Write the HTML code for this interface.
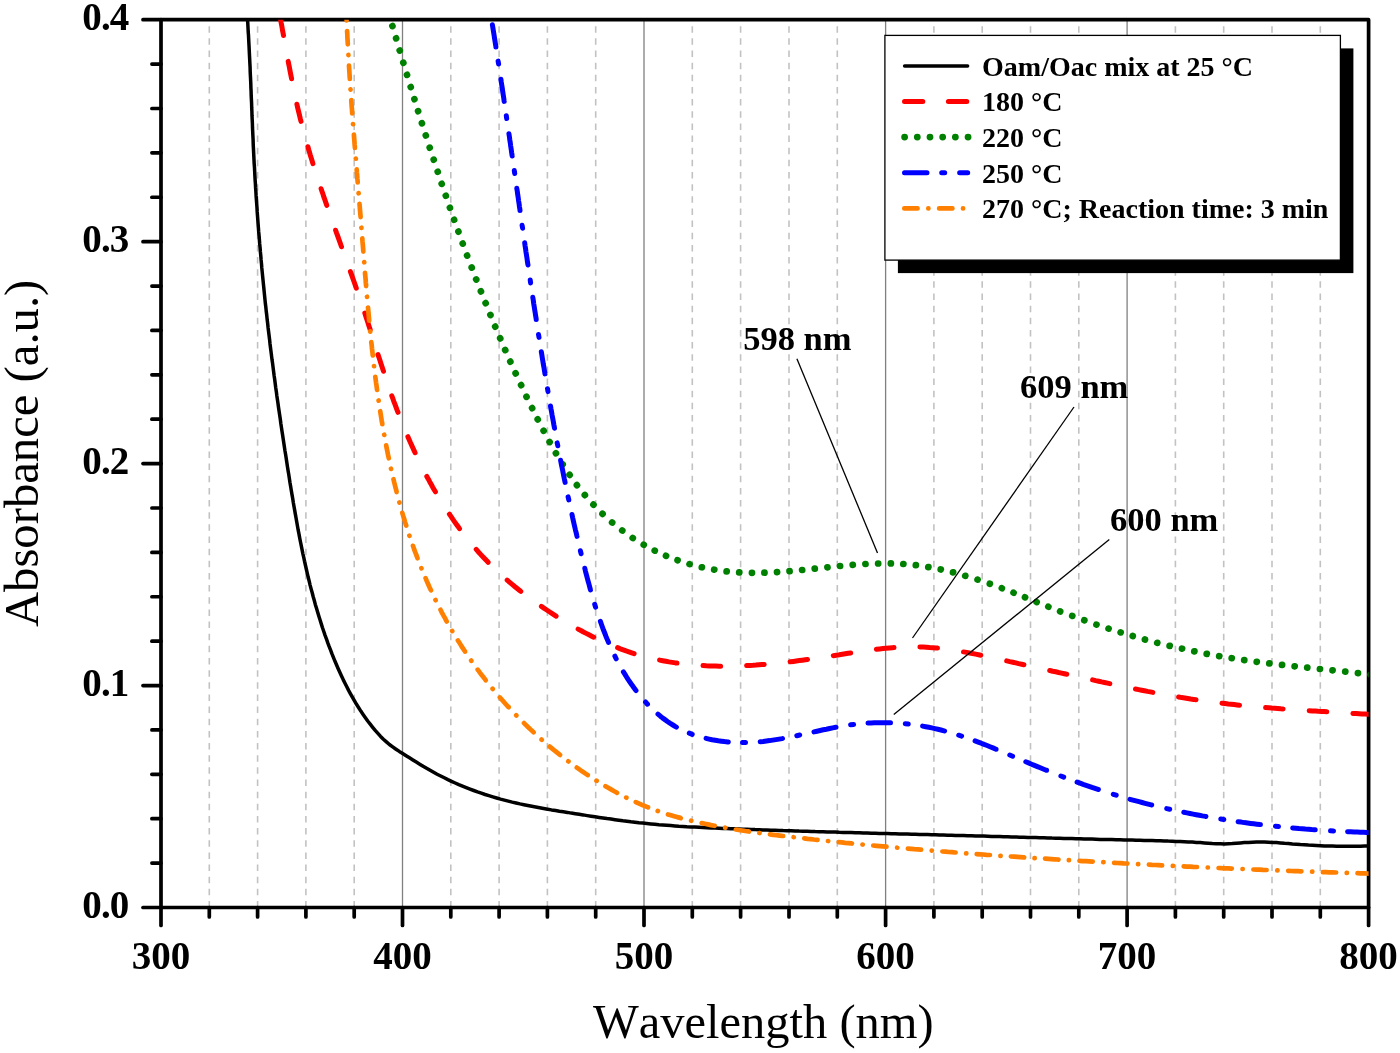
<!DOCTYPE html>
<html lang="en"><head><meta charset="utf-8"><title>UV-Vis absorbance</title>
<style>html,body{margin:0;padding:0;background:#fff}body{width:1400px;height:1053px;overflow:hidden}svg{display:block}text{font-family:"Liberation Serif","Times New Roman",serif;fill:#000;font-kerning:none}.b{font-weight:bold}</style></head><body>
<svg width="1400" height="1053" viewBox="0 0 1400 1053">
<rect width="1400" height="1053" fill="#fff"/>
<defs><clipPath id="pc"><rect x="161.0" y="19.7" width="1207.6" height="887.8"/></clipPath></defs>
<g><line x1="209.3" y1="907.5" x2="209.3" y2="19.7" stroke="#c2c2c2" stroke-width="1.6" stroke-dasharray="6.5 5.65"/><line x1="257.6" y1="907.5" x2="257.6" y2="19.7" stroke="#c2c2c2" stroke-width="1.6" stroke-dasharray="6.5 5.65"/><line x1="305.9" y1="907.5" x2="305.9" y2="19.7" stroke="#c2c2c2" stroke-width="1.6" stroke-dasharray="6.5 5.65"/><line x1="354.2" y1="907.5" x2="354.2" y2="19.7" stroke="#c2c2c2" stroke-width="1.6" stroke-dasharray="6.5 5.65"/><line x1="402.5" y1="19.7" x2="402.5" y2="907.5" stroke="#808080" stroke-width="1.3"/><line x1="450.8" y1="907.5" x2="450.8" y2="19.7" stroke="#c2c2c2" stroke-width="1.6" stroke-dasharray="6.5 5.65"/><line x1="499.1" y1="907.5" x2="499.1" y2="19.7" stroke="#c2c2c2" stroke-width="1.6" stroke-dasharray="6.5 5.65"/><line x1="547.4" y1="907.5" x2="547.4" y2="19.7" stroke="#c2c2c2" stroke-width="1.6" stroke-dasharray="6.5 5.65"/><line x1="595.7" y1="907.5" x2="595.7" y2="19.7" stroke="#c2c2c2" stroke-width="1.6" stroke-dasharray="6.5 5.65"/><line x1="644.0" y1="19.7" x2="644.0" y2="907.5" stroke="#808080" stroke-width="1.3"/><line x1="692.3" y1="907.5" x2="692.3" y2="19.7" stroke="#c2c2c2" stroke-width="1.6" stroke-dasharray="6.5 5.65"/><line x1="740.6" y1="907.5" x2="740.6" y2="19.7" stroke="#c2c2c2" stroke-width="1.6" stroke-dasharray="6.5 5.65"/><line x1="789.0" y1="907.5" x2="789.0" y2="19.7" stroke="#c2c2c2" stroke-width="1.6" stroke-dasharray="6.5 5.65"/><line x1="837.3" y1="907.5" x2="837.3" y2="19.7" stroke="#c2c2c2" stroke-width="1.6" stroke-dasharray="6.5 5.65"/><line x1="885.6" y1="19.7" x2="885.6" y2="907.5" stroke="#808080" stroke-width="1.3"/><line x1="933.9" y1="907.5" x2="933.9" y2="19.7" stroke="#c2c2c2" stroke-width="1.6" stroke-dasharray="6.5 5.65"/><line x1="982.2" y1="907.5" x2="982.2" y2="19.7" stroke="#c2c2c2" stroke-width="1.6" stroke-dasharray="6.5 5.65"/><line x1="1030.5" y1="907.5" x2="1030.5" y2="19.7" stroke="#c2c2c2" stroke-width="1.6" stroke-dasharray="6.5 5.65"/><line x1="1078.8" y1="907.5" x2="1078.8" y2="19.7" stroke="#c2c2c2" stroke-width="1.6" stroke-dasharray="6.5 5.65"/><line x1="1127.1" y1="19.7" x2="1127.1" y2="907.5" stroke="#808080" stroke-width="1.3"/><line x1="1175.4" y1="907.5" x2="1175.4" y2="19.7" stroke="#c2c2c2" stroke-width="1.6" stroke-dasharray="6.5 5.65"/><line x1="1223.7" y1="907.5" x2="1223.7" y2="19.7" stroke="#c2c2c2" stroke-width="1.6" stroke-dasharray="6.5 5.65"/><line x1="1272.0" y1="907.5" x2="1272.0" y2="19.7" stroke="#c2c2c2" stroke-width="1.6" stroke-dasharray="6.5 5.65"/><line x1="1320.3" y1="907.5" x2="1320.3" y2="19.7" stroke="#c2c2c2" stroke-width="1.6" stroke-dasharray="6.5 5.65"/></g>
<g fill="none" stroke="#000" stroke-width="3.7" stroke-linecap="round" stroke-linejoin="round"><rect x="161.0" y="19.7" width="1207.6" height="887.8"/><line x1="161.0" y1="907.50" x2="143.0" y2="907.50"/><line x1="161.0" y1="863.11" x2="151.9" y2="863.11"/><line x1="161.0" y1="818.72" x2="151.9" y2="818.72"/><line x1="161.0" y1="774.33" x2="151.9" y2="774.33"/><line x1="161.0" y1="729.94" x2="151.9" y2="729.94"/><line x1="161.0" y1="685.55" x2="143.0" y2="685.55"/><line x1="161.0" y1="641.16" x2="151.9" y2="641.16"/><line x1="161.0" y1="596.77" x2="151.9" y2="596.77"/><line x1="161.0" y1="552.38" x2="151.9" y2="552.38"/><line x1="161.0" y1="507.99" x2="151.9" y2="507.99"/><line x1="161.0" y1="463.60" x2="143.0" y2="463.60"/><line x1="161.0" y1="419.21" x2="151.9" y2="419.21"/><line x1="161.0" y1="374.82" x2="151.9" y2="374.82"/><line x1="161.0" y1="330.43" x2="151.9" y2="330.43"/><line x1="161.0" y1="286.04" x2="151.9" y2="286.04"/><line x1="161.0" y1="241.65" x2="143.0" y2="241.65"/><line x1="161.0" y1="197.26" x2="151.9" y2="197.26"/><line x1="161.0" y1="152.87" x2="151.9" y2="152.87"/><line x1="161.0" y1="108.48" x2="151.9" y2="108.48"/><line x1="161.0" y1="64.09" x2="151.9" y2="64.09"/><line x1="161.0" y1="19.70" x2="143.0" y2="19.70"/><line x1="161.0" y1="907.5" x2="161.0" y2="925.5"/><line x1="209.3" y1="907.5" x2="209.3" y2="916.9"/><line x1="257.6" y1="907.5" x2="257.6" y2="916.9"/><line x1="305.9" y1="907.5" x2="305.9" y2="916.9"/><line x1="354.2" y1="907.5" x2="354.2" y2="916.9"/><line x1="402.5" y1="907.5" x2="402.5" y2="925.5"/><line x1="450.8" y1="907.5" x2="450.8" y2="916.9"/><line x1="499.1" y1="907.5" x2="499.1" y2="916.9"/><line x1="547.4" y1="907.5" x2="547.4" y2="916.9"/><line x1="595.7" y1="907.5" x2="595.7" y2="916.9"/><line x1="644.0" y1="907.5" x2="644.0" y2="925.5"/><line x1="692.3" y1="907.5" x2="692.3" y2="916.9"/><line x1="740.6" y1="907.5" x2="740.6" y2="916.9"/><line x1="789.0" y1="907.5" x2="789.0" y2="916.9"/><line x1="837.3" y1="907.5" x2="837.3" y2="916.9"/><line x1="885.6" y1="907.5" x2="885.6" y2="925.5"/><line x1="933.9" y1="907.5" x2="933.9" y2="916.9"/><line x1="982.2" y1="907.5" x2="982.2" y2="916.9"/><line x1="1030.5" y1="907.5" x2="1030.5" y2="916.9"/><line x1="1078.8" y1="907.5" x2="1078.8" y2="916.9"/><line x1="1127.1" y1="907.5" x2="1127.1" y2="925.5"/><line x1="1175.4" y1="907.5" x2="1175.4" y2="916.9"/><line x1="1223.7" y1="907.5" x2="1223.7" y2="916.9"/><line x1="1272.0" y1="907.5" x2="1272.0" y2="916.9"/><line x1="1320.3" y1="907.5" x2="1320.3" y2="916.9"/><line x1="1368.6" y1="907.5" x2="1368.6" y2="925.5"/></g>
<g clip-path="url(#pc)" fill="none" stroke-linecap="round" stroke-linejoin="round">
<path d="M247.5 19.5L247.8 23.5L248.0 27.5L248.2 31.5L248.5 35.5L248.7 39.5L248.9 43.5L249.1 47.5L249.3 51.6L249.5 55.6L249.7 59.6L249.9 63.6L250.1 67.6L250.2 71.6L250.4 75.6L250.6 79.6L250.8 83.6L250.9 87.6L251.1 91.6L251.2 95.7L251.4 99.7L251.6 103.7L251.7 107.7L251.9 111.7L252.0 115.7L252.2 119.7L252.4 123.7L252.5 127.7L252.7 131.7L252.9 135.8L253.1 139.8L253.2 143.8L253.4 147.8L253.6 151.8L253.8 155.8L254.0 159.8L254.2 163.8L254.5 167.8L254.7 171.8L254.9 175.8L255.1 179.8L255.4 183.8L255.6 187.9L255.9 191.9L256.1 195.9L256.4 199.9L256.7 203.9L257.0 207.9L257.2 211.9L257.5 215.9L257.8 219.9L258.1 223.9L258.4 227.9L258.7 231.9L259.1 235.9L259.4 239.9L259.7 243.9L260.1 247.9L260.4 251.9L260.8 255.9L261.1 259.9L261.5 263.9L261.8 267.9L262.2 271.9L262.6 275.9L263.0 279.9L263.4 283.9L263.8 287.8L264.2 291.8L264.6 295.8L265.0 299.8L265.4 303.8L265.9 307.8L266.3 311.8L266.8 315.8L267.2 319.8L267.7 323.8L268.1 327.7L268.6 331.7L269.1 335.7L269.6 339.7L270.0 343.7L270.5 347.7L271.0 351.6L271.5 355.6L272.0 359.6L272.6 363.6L273.1 367.6L273.6 371.5L274.1 375.5L274.7 379.5L275.2 383.5L275.7 387.5L276.3 391.4L276.8 395.4L277.4 399.4L278.0 403.4L278.5 407.3L279.1 411.3L279.7 415.3L280.3 419.2L280.8 423.2L281.4 427.2L282.0 431.2L282.6 435.1L283.2 439.1L283.8 443.1L284.4 447.0L285.0 451.0L285.7 455.0L286.3 458.9L286.9 462.9L287.5 466.9L288.1 470.8L288.8 474.8L289.4 478.7L290.0 482.7L290.7 486.7L291.3 490.6L292.0 494.6L292.7 498.5L293.3 502.5L294.0 506.5L294.7 510.4L295.4 514.4L296.1 518.3L296.8 522.3L297.5 526.2L298.2 530.2L299.0 534.1L299.7 538.0L300.5 542.0L301.3 545.9L302.1 549.8L302.9 553.8L303.8 557.7L304.6 561.6L305.5 565.5L306.4 569.5L307.3 573.4L308.2 577.3L309.2 581.2L310.1 585.1L311.1 588.9L312.2 592.8L313.2 596.7L314.3 600.6L315.3 604.4L316.5 608.3L317.6 612.1L318.8 616.0L320.0 619.8L321.2 623.6L322.4 627.5L323.7 631.3L325.0 635.1L326.4 638.8L327.7 642.6L329.1 646.4L330.6 650.1L332.0 653.9L333.5 657.6L335.0 661.3L336.6 665.0L338.2 668.7L339.8 672.3L341.5 676.0L343.2 679.6L345.0 683.2L346.8 686.8L348.6 690.4L350.5 693.9L352.5 697.4L354.5 700.9L356.5 704.3L358.7 707.7L360.8 711.1L363.1 714.4L365.4 717.7L367.7 721.0L370.2 724.2L372.7 727.3L375.2 730.4L377.9 733.4L380.6 736.4L383.4 739.2L386.4 741.9L389.4 744.5L392.7 746.9L396.0 749.2L399.3 751.4L402.7 753.5L406.1 755.7L409.5 757.8L412.9 760.0L416.3 762.1L419.7 764.2L423.1 766.3L426.6 768.3L430.1 770.3L433.6 772.3L437.1 774.2L440.7 776.0L444.3 777.8L447.9 779.6L451.5 781.3L455.2 783.0L458.8 784.6L462.5 786.1L466.2 787.6L470.0 789.1L473.7 790.5L477.5 791.9L481.3 793.2L485.1 794.5L488.9 795.7L492.8 796.9L496.6 798.0L500.5 799.1L504.4 800.1L508.3 801.1L512.2 802.1L516.1 803.0L520.0 803.9L523.9 804.7L527.8 805.5L531.8 806.3L535.7 807.0L539.7 807.8L543.6 808.5L547.6 809.2L551.5 809.9L555.5 810.5L559.4 811.2L563.4 811.8L567.4 812.4L571.3 813.1L575.3 813.7L579.2 814.3L583.2 814.9L587.2 815.6L591.1 816.2L595.1 816.8L599.1 817.4L603.0 818.0L607.0 818.6L611.0 819.1L615.0 819.7L618.9 820.2L622.9 820.8L626.9 821.3L630.9 821.8L634.9 822.2L638.9 822.7L642.8 823.1L646.8 823.5L650.8 823.9L654.8 824.3L658.8 824.7L662.8 825.0L666.8 825.3L670.8 825.6L674.8 825.9L678.8 826.2L682.8 826.4L686.8 826.7L690.9 826.9L694.9 827.1L698.9 827.3L702.9 827.5L706.9 827.7L710.9 827.9L714.9 828.0L718.9 828.2L722.9 828.4L726.9 828.5L730.9 828.7L735.0 828.8L739.0 829.0L743.0 829.2L747.0 829.3L751.0 829.4L755.0 829.6L759.0 829.7L763.0 829.9L767.0 830.0L771.0 830.2L775.1 830.3L779.1 830.4L783.1 830.6L787.1 830.7L791.1 830.8L795.1 830.9L799.1 831.1L803.1 831.2L807.1 831.3L811.2 831.4L815.2 831.6L819.2 831.7L823.2 831.8L827.2 831.9L831.2 832.0L835.2 832.1L839.2 832.3L843.3 832.4L847.3 832.5L851.3 832.6L855.3 832.7L859.3 832.8L863.3 832.9L867.3 833.0L871.3 833.2L875.3 833.3L879.4 833.4L883.4 833.5L887.4 833.6L891.4 833.7L895.4 833.8L899.4 833.9L903.4 834.0L907.4 834.1L911.5 834.2L915.5 834.3L919.5 834.4L923.5 834.5L927.5 834.6L931.5 834.7L935.5 834.8L939.5 835.0L943.5 835.1L947.6 835.2L951.6 835.3L955.6 835.4L959.6 835.5L963.6 835.6L967.6 835.7L971.6 835.8L975.6 835.9L979.7 836.0L983.7 836.1L987.7 836.2L991.7 836.4L995.7 836.5L999.7 836.6L1003.7 836.7L1007.7 836.8L1011.7 836.9L1015.8 837.0L1019.8 837.2L1023.8 837.3L1027.8 837.4L1031.8 837.5L1035.8 837.6L1039.8 837.7L1043.8 837.8L1047.9 837.9L1051.9 838.1L1055.9 838.2L1059.9 838.3L1063.9 838.4L1067.9 838.5L1071.9 838.6L1075.9 838.7L1079.9 838.8L1084.0 838.9L1088.0 839.0L1092.0 839.1L1096.0 839.2L1100.0 839.4L1104.0 839.5L1108.0 839.6L1112.0 839.6L1116.1 839.7L1120.1 839.8L1124.1 839.9L1128.1 840.0L1132.1 840.1L1136.1 840.2L1140.1 840.3L1144.1 840.4L1148.1 840.5L1152.2 840.6L1156.2 840.7L1160.2 840.8L1164.2 840.9L1168.2 841.1L1172.2 841.2L1176.2 841.4L1180.2 841.5L1184.2 841.7L1188.3 841.9L1192.3 842.1L1196.3 842.4L1200.3 842.6L1204.3 842.9L1208.3 843.2L1212.3 843.5L1216.3 843.7L1220.3 843.8L1224.3 843.9L1228.3 843.7L1232.3 843.5L1236.3 843.2L1240.3 842.9L1244.3 842.6L1248.3 842.4L1252.4 842.2L1256.4 842.1L1260.4 842.0L1264.4 842.1L1268.4 842.2L1272.4 842.4L1276.4 842.6L1280.4 842.9L1284.4 843.3L1288.4 843.6L1292.4 844.0L1296.4 844.3L1300.4 844.6L1304.4 844.8L1308.4 845.1L1312.4 845.3L1316.4 845.5L1320.5 845.7L1324.5 845.9L1328.5 846.0L1332.5 846.1L1336.5 846.2L1340.5 846.2L1344.5 846.3L1348.5 846.3L1352.5 846.3L1356.6 846.3L1360.6 846.2L1364.6 846.1L1368.6 846.0" stroke="#000" stroke-width="3.5"/>
<path d="M280.6 19.5L281.1 22.4L281.7 25.4L282.2 28.3L282.7 31.3L283.3 34.3L283.5 35.6M288.2 61.4L288.8 64.4L289.4 67.3L289.9 70.3L290.5 73.2L291.1 76.2L291.6 78.7M296.9 104.3L297.6 107.4L298.3 110.3L299.0 113.2L299.7 116.1L300.4 119.1L301.0 121.4M307.9 146.7L308.7 149.7L309.6 152.6L310.4 155.5L311.3 158.3L312.2 161.2L312.9 163.6M321.1 188.7L322.1 191.7L323.1 194.5L324.0 197.4L325.0 200.2L326.0 203.1L326.8 205.3M335.6 230.2L336.6 233.1L337.7 236.0L338.7 238.8L339.7 241.6L340.7 244.5L341.5 246.8M350.4 271.6L351.5 274.5L352.5 277.3L353.5 280.2L354.5 283.0L355.5 285.8L356.3 288.2M364.8 313.1L365.8 316.2L366.8 319.3L367.8 322.3L368.8 325.4L369.8 328.5L370.2 329.8M378.0 354.6L379.0 357.5L380.0 360.6L381.0 363.7L382.0 366.8L383.0 369.8L383.5 371.3M391.8 395.8L392.9 398.7L393.9 401.6L395.0 404.4L396.0 407.2L397.1 410.1L398.0 412.3M407.9 436.7L409.1 439.5L410.3 442.3L411.6 445.1L412.8 447.8L414.1 450.6L415.1 452.7M426.8 476.4L428.4 479.2L429.8 481.9L431.3 484.5L432.7 487.2L434.2 489.8L435.4 491.8M449.4 514.2L451.1 516.7L452.9 519.4L454.8 522.1L456.7 524.7L458.6 527.3L459.5 528.6M476.2 549.4L478.2 551.7L480.4 554.1L482.6 556.4L484.8 558.8L487.0 561.1L488.1 562.3M507.2 580.2L509.7 582.3L512.2 584.4L514.7 586.5L517.2 588.5L519.7 590.5L520.8 591.4M541.4 606.4L543.9 608.1L546.4 609.8L549.0 611.5L551.5 613.1L554.1 614.8L556.1 616.1M578.1 629.1L580.8 630.5L583.5 632.0L586.2 633.4L589.0 634.8L591.7 636.2L593.7 637.2M617.6 647.7L620.4 648.8L623.2 649.8L626.1 650.9L628.9 651.8L631.7 652.8L634.1 653.6M659.6 660.1L662.7 660.7L665.9 661.3L669.1 661.9L672.2 662.4L675.4 662.9L677.0 663.1M703.0 665.6L706.2 665.8L709.4 665.9L712.7 666.0L715.9 666.1L719.1 666.2L720.6 666.2M746.6 665.6L749.9 665.4L752.9 665.3L755.9 665.1L758.9 664.8L761.9 664.6L764.2 664.4M790.1 661.8L793.3 661.4L796.3 661.0L799.3 660.6L802.3 660.2L805.3 659.8L807.5 659.5M833.3 655.7L836.3 655.2L839.3 654.8L842.3 654.3L845.2 653.8L848.2 653.3L850.7 653.0M876.4 649.3L879.7 648.9L882.9 648.6L886.1 648.3L889.3 648.0L892.5 647.7L894.0 647.6M919.9 647.0L923.2 647.1L926.4 647.2L929.6 647.5L932.9 647.7L936.1 648.0L937.5 648.1M963.5 651.9L966.6 652.4L969.6 653.0L972.5 653.5L975.5 654.1L978.5 654.7L980.8 655.2M1006.7 660.9L1009.8 661.6L1012.8 662.2L1015.7 662.9L1018.7 663.6L1021.6 664.2L1023.9 664.7M1049.7 670.5L1052.7 671.2L1055.7 671.8L1058.6 672.5L1061.5 673.1L1064.5 673.8L1066.8 674.3M1092.6 679.9L1095.7 680.6L1098.7 681.2L1101.6 681.9L1104.5 682.5L1107.5 683.1L1109.8 683.6M1135.5 689.0L1138.6 689.6L1141.6 690.2L1144.5 690.8L1147.5 691.4L1150.4 691.9L1152.8 692.4M1178.6 697.0L1181.8 697.6L1184.7 698.0L1187.7 698.5L1190.7 699.0L1193.6 699.4L1196.0 699.8M1222.0 703.2L1225.2 703.6L1228.2 704.0L1231.1 704.3L1234.1 704.6L1237.1 704.9L1239.5 705.2M1265.6 707.6L1268.8 707.8L1271.8 708.1L1274.8 708.3L1277.8 708.5L1280.8 708.8L1283.1 708.9M1309.2 710.7L1312.3 710.9L1315.3 711.1L1318.3 711.3L1321.3 711.4L1324.3 711.6L1326.8 711.8M1352.9 713.4L1356.1 713.6L1359.1 713.8L1362.1 714.0L1365.1 714.1L1368.1 714.3L1368.6 714.4" stroke="#ff0000" stroke-width="5"/>
<path d="M346.6 20.2l0.02 0.20M347.1 31.0L347.3 34.0L347.4 37.3L347.6 40.5L347.8 43.8L347.8 44.3M348.4 54.9l0.02 0.20M349.0 65.6L349.2 68.9L349.4 72.1L349.6 75.3L349.8 78.6L349.8 78.9M350.5 89.4l0.02 0.20M351.3 100.2L351.5 103.3L351.7 106.6L352.0 109.8L352.2 113.0L352.2 113.4M353.0 124.0l0.03 0.20M353.9 134.7L354.1 137.8L354.4 141.0L354.6 144.2L354.9 147.4L354.9 148.0M355.8 158.5l0.03 0.20M356.7 169.3L356.9 172.4L357.2 175.6L357.4 178.9L357.7 182.1L357.7 182.5M358.6 193.1l0.03 0.20M359.5 203.9L359.8 207.1L360.0 210.3L360.3 213.5L360.6 216.7L360.6 217.1M361.4 227.7l0.03 0.20M362.3 238.4L362.5 241.5L362.8 244.7L363.1 248.0L363.3 251.2L363.3 251.6M364.2 262.1l0.03 0.20M365.0 272.9L365.3 276.0L365.6 279.2L365.8 282.5L366.1 285.7L366.1 286.1M367.0 296.7l0.03 0.20M368.0 307.5L368.3 310.7L368.6 314.0L368.9 317.2L369.2 320.4L369.2 320.7M370.2 331.4l0.03 0.20M371.3 342.2L371.7 345.4L372.0 348.7L372.4 351.9L372.7 355.1L372.8 355.4M374.0 366.0l0.03 0.20M375.3 376.8L375.7 379.8L376.1 383.0L376.6 386.2L377.0 389.4L377.1 389.9M378.6 400.5l0.04 0.20M380.2 411.2L380.7 414.3L381.2 417.5L381.7 420.7L382.3 423.9L382.3 424.2M384.2 434.7l0.05 0.20M386.2 445.3L386.7 448.3L387.4 451.5L388.0 454.7L388.7 457.8L388.8 458.3M391.0 468.7l0.05 0.20M393.5 479.2L394.2 482.3L395.0 485.5L395.8 488.6L396.6 491.8L396.6 492.1M399.4 502.4l0.06 0.19M402.3 512.8L403.2 515.9L404.2 519.0L405.1 522.1L406.1 525.2L406.2 525.5M409.4 535.6l0.07 0.19M413.0 545.8L414.0 548.9L415.1 551.9L416.3 554.9L417.4 557.9L417.5 558.3M421.4 568.1l0.08 0.19M425.6 578.2L426.8 581.1L428.1 584.0L429.4 587.0L430.8 589.9L431.0 590.3M435.5 600.0l0.10 0.18M440.5 609.8L441.9 612.6L443.4 615.4L445.0 618.2L446.5 621.1L446.7 621.5M452.1 630.9l0.11 0.17M457.9 640.4L459.6 643.1L461.3 645.9L463.1 648.6L464.9 651.3L465.0 651.6M471.2 660.6l0.12 0.16M477.7 669.7L479.5 672.1L481.5 674.8L483.5 677.3L485.5 679.9L485.7 680.2M492.6 688.8l0.14 0.15M499.8 697.4L502.0 699.8L504.1 702.2L506.3 704.7L508.5 707.1L508.7 707.2M516.2 715.3l0.15 0.14M524.0 723.1L526.3 725.4L528.7 727.7L531.0 729.9L533.4 732.1L533.6 732.3M541.6 739.6l0.16 0.13M549.7 746.6L552.2 748.6L554.7 750.7L557.2 752.7L559.7 754.7L560.0 754.9M568.3 761.3l0.17 0.12M576.8 767.6L579.4 769.4L582.1 771.3L584.8 773.1L587.4 774.9L587.8 775.1M596.5 780.7l0.18 0.11M605.5 786.2L608.2 787.8L611.0 789.4L613.8 791.0L616.6 792.5L617.0 792.8M626.2 797.6l0.19 0.09M635.8 802.1L638.6 803.4L641.5 804.7L644.5 805.9L647.5 807.1L648.0 807.3M657.7 811.0l0.20 0.07M668.0 814.4L671.0 815.3L674.1 816.2L677.2 817.1L680.4 817.9L680.7 818.1M691.1 820.7l0.20 0.05M701.7 823.1L704.8 823.8L707.9 824.4L711.1 825.1L714.3 825.7L714.7 825.8M725.2 827.7l0.21 0.03M735.9 829.5L738.8 830.0L742.0 830.5L745.3 831.0L748.5 831.4L749.0 831.5M759.4 833.0l0.21 0.03M770.0 834.4L773.2 834.8L776.4 835.2L779.7 835.6L782.9 836.0L783.2 836.0M793.6 837.2l0.21 0.02M804.3 838.4L807.4 838.8L810.6 839.1L813.8 839.5L817.1 839.8L817.5 839.9M828.0 841.0l0.21 0.02M838.7 842.1L841.8 842.4L845.0 842.8L848.3 843.1L851.5 843.4L851.9 843.5M862.5 844.5l0.21 0.02M873.3 845.5L876.5 845.8L879.7 846.1L882.9 846.4L886.1 846.7L886.5 846.7M897.1 847.7l0.21 0.02M907.9 848.6L911.1 848.9L914.3 849.2L917.6 849.4L920.8 849.7L921.1 849.7M931.7 850.6l0.21 0.02M942.4 851.5L945.5 851.7L948.7 852.0L952.0 852.2L955.2 852.5L955.6 852.5M966.1 853.3l0.21 0.01M976.7 854.1L979.9 854.3L983.1 854.5L986.4 854.8L989.6 855.0L989.9 855.0M1000.4 855.8l0.21 0.01M1010.9 856.5L1014.1 856.7L1017.3 856.9L1020.5 857.1L1023.8 857.3L1024.1 857.4M1034.5 858.1l0.21 0.01M1045.1 858.7L1048.3 858.9L1051.5 859.1L1054.7 859.3L1058.0 859.5L1058.4 859.6M1068.8 860.2l0.21 0.01M1079.5 860.9L1082.7 861.1L1086.0 861.2L1089.2 861.4L1092.4 861.6L1092.7 861.6M1103.3 862.2l0.21 0.01M1114.1 862.8L1117.2 863.0L1120.5 863.2L1123.7 863.4L1127.0 863.5L1127.3 863.6M1138.0 864.1l0.21 0.01M1148.9 864.7L1152.0 864.9L1155.3 865.0L1158.5 865.2L1161.8 865.4L1162.1 865.4M1172.8 865.9l0.21 0.01M1183.7 866.4L1186.8 866.6L1190.1 866.7L1193.3 866.9L1196.6 867.0L1197.0 867.0M1207.7 867.5l0.21 0.01M1218.6 868.0L1221.6 868.2L1224.9 868.3L1228.1 868.4L1231.4 868.6L1231.8 868.6M1242.5 869.0l0.21 0.01M1253.4 869.5L1256.4 869.6L1259.7 869.7L1262.9 869.9L1266.1 870.0L1266.6 870.0M1277.3 870.4l0.21 0.01M1288.2 870.8L1291.2 871.0L1294.5 871.1L1297.7 871.2L1300.9 871.3L1301.4 871.3M1312.1 871.7l0.21 0.01M1322.9 872.1L1326.0 872.2L1329.2 872.3L1332.5 872.4L1335.7 872.5L1336.1 872.5M1346.7 872.9l0.21 0.01M1357.5 873.2L1360.7 873.3L1364.0 873.4L1367.2 873.5L1368.5 873.6" stroke="#ff8000" stroke-width="4.7"/>
<path d="M388.9 13.8l0.03 0.07M392.4 26.0l0.04 0.10M396.1 38.3l0.04 0.10M399.7 50.5l0.04 0.10M403.3 62.7l0.04 0.10M407.0 74.8l0.04 0.10M410.7 87.0l0.04 0.10M414.4 99.1l0.04 0.10M418.1 111.1l0.04 0.10M421.9 123.2l0.04 0.10M425.8 135.4l0.04 0.10M429.7 147.6l0.04 0.10M433.7 159.6l0.04 0.10M437.7 171.7l0.04 0.09M441.7 183.8l0.04 0.09M445.8 195.7l0.04 0.09M449.9 207.7l0.04 0.09M454.1 219.7l0.04 0.09M458.4 231.6l0.04 0.09M462.7 243.5l0.04 0.09M467.1 255.5l0.04 0.09M471.7 267.5l0.05 0.09M476.2 279.4l0.05 0.09M480.9 291.3l0.05 0.09M485.6 303.1l0.05 0.09M490.4 314.9l0.05 0.09M495.2 326.6l0.05 0.09M500.2 338.3l0.05 0.09M505.2 350.0l0.05 0.09M510.3 361.6l0.05 0.09M515.6 373.3l0.05 0.09M521.1 385.1l0.05 0.09M526.5 396.7l0.05 0.09M532.1 408.1l0.05 0.09M537.7 419.4l0.06 0.09M543.6 430.7l0.06 0.09M549.6 442.0l0.06 0.09M555.9 453.2l0.06 0.09M562.6 464.2l0.06 0.08M569.6 474.8l0.07 0.08M576.9 485.1l0.07 0.08M584.8 495.0l0.07 0.08M593.4 504.6l0.08 0.07M602.5 513.8l0.08 0.07M612.1 522.5l0.09 0.06M622.2 530.5l0.09 0.06M632.7 538.0l0.09 0.06M643.7 544.7l0.10 0.05M654.7 550.6l0.10 0.04M666.0 555.8l0.10 0.04M677.5 560.2l0.10 0.03M689.5 564.1l0.11 0.03M701.8 567.3l0.11 0.02M714.2 569.7l0.11 0.02M726.6 571.4l0.11 0.01M739.2 572.4l0.11 0.01M751.9 572.8l0.11 0.00M764.4 572.7l0.11 -0.00M777.0 572.1l0.11 -0.01M789.5 571.2l0.11 -0.01M802.1 570.0l0.11 -0.01M814.7 568.7l0.11 -0.01M827.4 567.3l0.11 -0.01M840.0 566.0l0.11 -0.01M852.7 564.9l0.11 -0.01M865.4 564.0l0.11 -0.01M878.1 563.5l0.11 -0.00M890.8 563.4l0.11 0.00M903.3 564.0l0.11 0.01M915.8 565.2l0.11 0.01M928.3 567.1l0.11 0.02M940.7 569.5l0.11 0.02M953.0 572.4l0.11 0.02M965.2 575.8l0.11 0.03M977.5 579.6l0.11 0.03M989.8 583.8l0.10 0.03M1001.8 588.2l0.10 0.04M1013.5 592.7l0.10 0.04M1025.0 597.3l0.10 0.04M1036.6 602.0l0.10 0.04M1048.3 606.7l0.10 0.04M1060.1 611.4l0.10 0.04M1072.2 615.9l0.10 0.03M1084.3 620.3l0.10 0.03M1096.4 624.6l0.10 0.03M1108.5 628.6l0.11 0.03M1120.6 632.4l0.11 0.03M1132.7 636.0l0.11 0.03M1144.9 639.5l0.11 0.03M1157.2 642.8l0.11 0.03M1169.6 645.9l0.11 0.02M1182.0 648.7l0.11 0.02M1194.3 651.4l0.11 0.02M1206.7 653.9l0.11 0.02M1219.2 656.2l0.11 0.02M1231.7 658.2l0.11 0.02M1244.2 660.1l0.11 0.01M1256.7 661.8l0.11 0.01M1269.3 663.4l0.11 0.01M1282.0 664.9l0.11 0.01M1294.6 666.3l0.11 0.01M1307.2 667.6l0.11 0.01M1319.9 669.0l0.11 0.01M1332.5 670.3l0.11 0.01M1345.2 671.6l0.11 0.01M1357.9 673.1l0.11 0.01M1370.6 674.6l0.11 0.01" stroke="#008000" stroke-width="6.7"/>
<path d="M492.4 24.8L492.9 28.0L493.4 31.1L493.9 34.2L494.4 37.3L494.9 40.5L495.4 43.6L495.9 46.7L495.9 47.1M500.9 79.2L501.3 82.2L501.8 85.3L502.3 88.4L502.7 91.5L503.2 94.7L503.7 97.8L504.1 100.9L504.2 101.4M508.9 133.7L509.4 136.7L509.8 139.9L510.3 143.0L510.7 146.1L511.2 149.3L511.6 152.4L512.1 155.5L512.2 156.0M516.8 188.3L517.3 191.4L517.7 194.5L518.2 197.7L518.6 200.8L519.1 203.9L519.5 207.1L520.0 210.2L520.0 210.5M524.7 242.8L525.1 245.8L525.6 249.0L526.0 252.1L526.5 255.2L527.0 258.3L527.4 261.5L527.9 264.6L528.0 265.0M532.8 297.3L533.3 300.4L533.7 303.6L534.2 306.7L534.7 309.8L535.2 312.9L535.7 316.1L536.2 319.2L536.2 319.5M541.3 351.7L541.8 354.7L542.3 357.8L542.8 360.9L543.3 364.1L543.9 367.2L544.4 370.3L544.9 373.4L545.0 373.9M550.5 406.0L551.0 409.0L551.6 412.1L552.1 415.2L552.7 418.3L553.3 421.4L553.8 424.5L554.4 427.6L554.5 428.2M560.6 460.3L561.2 463.4L561.8 466.5L562.5 469.6L563.1 472.7L563.7 475.7L564.3 478.8L565.0 481.9L565.1 482.4M572.0 514.5L572.6 517.5L573.3 520.6L574.0 523.7L574.7 526.8L575.4 529.8L576.2 532.9L576.9 536.0L577.0 536.4M584.8 568.3L585.5 571.3L586.3 574.3L587.1 577.4L587.9 580.5L588.8 583.5L589.6 586.6L590.4 589.7L590.5 590.0M600.4 621.4L601.4 624.3L602.5 627.3L603.6 630.3L604.8 633.3L605.9 636.2L607.1 639.1L608.4 642.1L608.5 642.4M623.4 671.9L625.0 674.4L626.7 677.2L628.4 679.9L630.2 682.5L632.0 685.1L633.9 687.7L635.8 690.3L636.0 690.5M658.0 714.2L660.4 716.2L662.8 718.1L665.3 719.9L667.8 721.7L670.3 723.4L672.9 725.0L675.5 726.6L676.4 727.1M706.1 738.4L709.0 739.1L712.1 739.8L715.2 740.3L718.3 740.8L721.4 741.2L724.5 741.6L727.7 741.9L728.3 742.0M760.2 741.7L763.2 741.4L766.4 741.0L769.6 740.6L772.7 740.1L775.9 739.6L779.1 739.1L782.2 738.6L782.5 738.5M814.0 731.9L817.0 731.2L820.2 730.5L823.3 729.8L826.4 729.2L829.6 728.5L832.7 727.9L835.8 727.3L836.0 727.3M868.0 723.1L871.1 722.9L874.2 722.8L877.3 722.7L880.5 722.7L883.6 722.7L886.7 722.7L889.8 722.8L890.5 722.8M922.6 726.1L925.7 726.7L928.8 727.3L931.8 727.9L934.9 728.6L937.9 729.3L941.0 730.0L944.0 730.8L944.6 731.0M975.1 740.9L978.2 742.1L981.2 743.2L984.1 744.4L987.1 745.5L990.0 746.7L993.0 747.9L996.0 749.2L996.1 749.2M1025.8 761.8L1028.5 762.9L1031.5 764.2L1034.4 765.4L1037.4 766.6L1040.3 767.8L1043.2 769.0L1046.2 770.2L1046.6 770.3M1077.1 782.1L1080.1 783.2L1083.1 784.3L1086.1 785.3L1089.0 786.3L1092.0 787.4L1095.0 788.4L1098.0 789.4L1098.4 789.5M1130.0 799.3L1132.9 800.1L1136.0 800.9L1139.0 801.7L1142.1 802.5L1145.1 803.3L1148.2 804.1L1151.3 804.9L1151.7 805.0M1183.8 812.3L1186.9 812.9L1190.0 813.5L1193.1 814.1L1196.2 814.7L1199.3 815.3L1202.4 815.9L1205.5 816.4L1205.9 816.5M1238.1 821.7L1241.3 822.1L1244.4 822.6L1247.5 823.0L1250.7 823.4L1253.8 823.8L1256.9 824.2L1260.1 824.6L1260.4 824.6M1292.7 828.0L1295.8 828.3L1299.0 828.6L1302.1 828.8L1305.3 829.1L1308.4 829.3L1311.6 829.6L1314.7 829.8L1315.2 829.8M1347.6 831.7L1350.9 831.8L1354.0 832.0L1357.2 832.1L1360.3 832.2L1363.5 832.3L1366.7 832.4L1368.6 832.4M498.1 61.1L498.6 64.0M506.3 115.7L506.7 118.6M514.3 170.5L514.7 173.4M522.1 225.3L522.6 228.2M530.2 279.9L530.6 282.9M538.5 334.4L539.0 337.4M547.5 388.7L548.0 391.6M557.2 442.9L557.8 445.8M568.1 496.9L568.8 499.9M580.4 550.8L581.1 553.7M594.7 604.3L595.6 607.2M614.9 656.2L616.2 658.8M645.5 702.0L647.5 704.2M689.3 733.2L692.2 734.3M742.5 742.5L745.5 742.5M796.8 735.7L799.7 735.0M850.6 724.8L853.6 724.5M905.3 723.8L908.3 724.1M958.7 735.2L961.6 736.1M1009.8 755.0L1012.6 756.2M1060.9 776.0L1063.7 777.1M1113.3 794.3L1116.2 795.2M1166.7 808.6L1169.7 809.2M1220.8 819.0L1223.8 819.5M1275.5 826.3L1278.5 826.6M1330.5 830.8L1333.5 831.0" stroke="#0000ff" stroke-width="5"/>
</g>
<g stroke="#000" stroke-width="1.3"><line x1="796.9" y1="358.7" x2="877.5" y2="553"/><line x1="1074" y1="407" x2="912.5" y2="638"/><line x1="1109.3" y1="539.6" x2="893.8" y2="714.5"/></g>
<g class="b" font-size="39"><text x="82.3" y="918.1" letter-spacing="-0.9">0.0</text><text x="82.3" y="696.1" letter-spacing="-0.9">0.1</text><text x="82.3" y="474.2" letter-spacing="-0.9">0.2</text><text x="82.3" y="252.2" letter-spacing="-0.9">0.3</text><text x="82.3" y="30.3" letter-spacing="-0.9">0.4</text><text x="161.0" y="968.5" text-anchor="middle">300</text><text x="402.5" y="968.5" text-anchor="middle">400</text><text x="644.0" y="968.5" text-anchor="middle">500</text><text x="885.6" y="968.5" text-anchor="middle">600</text><text x="1127.1" y="968.5" text-anchor="middle">700</text><text x="1368.6" y="968.5" text-anchor="middle">800</text></g>
<text x="763.4" y="1038" font-size="48.5" text-anchor="middle">Wavelength (nm)</text>
<text transform="translate(37.5 453.4) rotate(-90)" font-size="48.7" text-anchor="middle">Absorbance (a.u.)</text>
<g class="b" font-size="34.5"><text x="743.2" y="349.6">598 nm</text><text x="1020" y="397.5">609 nm</text><text x="1110" y="531">600 nm</text></g>
<rect x="897.9" y="48.4" width="455.5" height="224.7" fill="#000"/>
<rect x="884.9" y="35.4" width="455.5" height="224.7" fill="#fff" stroke="#000" stroke-width="1.3"/>
<g fill="none" stroke-linecap="round"><line x1="904.6" y1="66.1" x2="967.6" y2="66.1" stroke="#000" stroke-width="3.5"/><path d="M904.5 101.6H922.8M948.4 101.6H966.8" stroke="#ff0000" stroke-width="5"/><path d="M904.60 137.1h0.01M917.29 137.1h0.01M929.98 137.1h0.01M942.67 137.1h0.01M955.36 137.1h0.01M968.05 137.1h0.01" stroke="#008000" stroke-width="6.8"/><path d="M904.5 172.7H927M941.7 172.7H944.7M959.65 172.7H967.7" stroke="#0000ff" stroke-width="5"/><path d="M904.3 208.4H917.55M928.3 208.4h0.1M939.15 208.4H952.4M963 208.4h0.1" stroke="#ff8000" stroke-width="4.7"/></g>
<g class="b" font-size="28"><text x="982.1" y="75.9">Oam/Oac mix at 25 °C</text><text x="982.1" y="111.4">180 °C</text><text x="982.1" y="146.9">220 °C</text><text x="982.1" y="182.5">250 °C</text><text x="982.1" y="218.2">270 °C; Reaction time: 3 min</text></g>
</svg></body></html>
